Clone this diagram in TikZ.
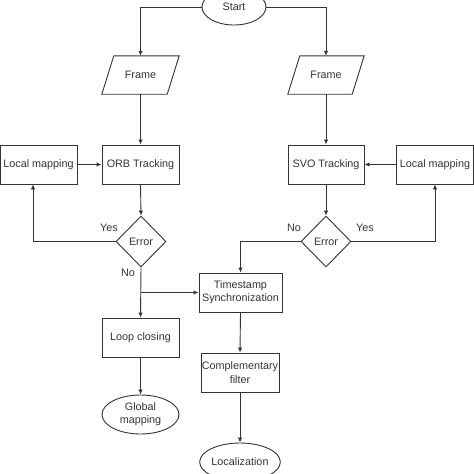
\documentclass[tikz,border=0pt]{standalone}
\usepackage{fontspec}
\setmainfont{Liberation Sans}
\usetikzlibrary{shapes.geometric,arrows.meta,calc}
\definecolor{ink}{HTML}{333333}
\begin{document}
\begin{tikzpicture}[x=1pt,y=-1pt,
  every node/.style={font=\fontsize{10.8}{13.3}\selectfont, text=ink, align=center},
  box/.style={draw=ink, line width=0.9pt, rectangle, inner sep=0pt},
  oval/.style={draw=ink, line width=0.9pt, ellipse, inner sep=0pt},
  dia/.style={draw=ink, line width=0.9pt, diamond, inner sep=0pt, minimum width=50pt, minimum height=51pt},
  pbox/.style={rectangle, inner sep=0pt, minimum width=77pt, minimum height=38pt},
  lbl/.style={inner sep=0pt},
  conn/.style={draw=ink, line width=0.9pt},
  arr/.style={conn, -{Latex[length=5pt,width=4.5pt]}}]
\useasboundingbox (0,0) rectangle (474,474);
\clip (0,0) rectangle (474,474);

\node[oval, minimum width=64pt, minimum height=36pt] (start) at (234,7) {Start};
\node[pbox] (frameL) at (140.5,75) {Frame};
\node[pbox, minimum width=76pt] (frameR) at (326,75) {Frame};
\draw[draw=ink, line width=0.9pt] ($(frameL.north west)+(12,0)$) -- (frameL.north east) -- ($(frameL.south east)+(-12,0)$) -- (frameL.south west) -- cycle;
\draw[draw=ink, line width=0.9pt] ($(frameR.north west)+(12,0)$) -- (frameR.north east) -- ($(frameR.south east)+(-12,0)$) -- (frameR.south west) -- cycle;

\node[box, minimum width=77pt, minimum height=39pt] (lmL) at (38.5,164.5) {Local mapping};
\node[box, minimum width=77pt, minimum height=39pt] (orb) at (140.5,164.5) {ORB Tracking};
\node[box, minimum width=76pt, minimum height=39pt] (svo) at (326,164.5) {SVO Tracking};
\node[box, minimum width=77pt, minimum height=39pt] (lmR) at (435,164.5) {Local mapping};

\node[dia] (errL) at (141,241.5) {Error};
\node[dia] (errR) at (326,241.5) {Error};

\node[box, minimum width=83pt, minimum height=39pt] (ts) at (240.5,292.5) {Timestamp\\Synchronization};
\node[box, minimum width=77pt, minimum height=39pt] (loop) at (140.5,337.5) {Loop closing};
\node[box, minimum width=78pt, minimum height=39pt] (cf) at (240,372.5) {Complementary\\filter};
\node[oval, minimum width=77pt, minimum height=39pt] (gm) at (140.5,414.5) {Global\\mapping};
\node[oval, minimum width=78pt, minimum height=38pt] (loc) at (240,462) {Localization};

\node[lbl] (yesL) at (109,228) {Yes};
\node[lbl] (noL) at (128,273) {No};
\node[lbl] (noR) at (294,228) {No};
\node[lbl] (yesR) at (365,228) {Yes};

\draw[arr] (start.west) -| (frameL.north);
\draw[arr] (start.east) -| (frameR.north);
\draw[arr] (frameL.south) -- (orb.north);
\draw[arr] (frameR.south) -- (svo.north);
\draw[arr] (lmL.east) -- (orb.west);
\draw[arr] (lmR.west) -- (svo.east);
\draw[arr] (orb.south) -- (errL.north);
\draw[arr] (svo.south) -- (errR.north);
\draw[arr] (errL.west) -| ([xshift=-5.5pt]lmL.south);
\draw[arr] (errR.east) -| (lmR.south);
\draw[arr] (errR.west) -| (ts.north);
\draw[arr] (errL.south) -- (loop.north);
\coordinate (br) at (errL.south |- ts.west);
\draw[arr] (br) -- (ts.west);
\draw[arr] (ts.south) -- (cf.north);
\draw[arr] (cf.south) -- (loc.north);
\draw[arr] (loop.south) -- (gm.north);
\end{tikzpicture}
\end{document}
